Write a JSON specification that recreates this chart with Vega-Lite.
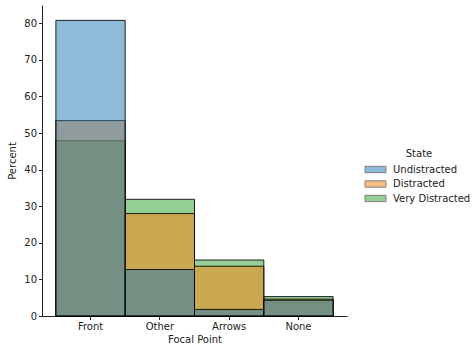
{
  "$schema": "https://vega.github.io/schema/vega-lite/v6.json",
  "width": 305,
  "height": 311,
  "autosize": {"type": "none"},
  "padding": {"left": 42, "top": 5, "right": 127, "bottom": 35},
  "background": "white",
  "config": {
    "view": {"stroke": null},
    "font": "DejaVu Sans",
    "axis": {"labelFont": "DejaVu Sans", "titleFont": "DejaVu Sans", "labelFontSize": 10, "titleFontSize": 10, "titleFontWeight": "normal", "labelColor": "#222", "titleColor": "#222", "domainColor": "#222", "tickColor": "#222", "grid": false, "tickSize": 3.5}
  },
  "data": {
    "values": [
      {"focal": "Front", "state": "Very Distracted", "pct": 47.9},
      {"focal": "Other", "state": "Very Distracted", "pct": 31.9},
      {"focal": "Arrows", "state": "Very Distracted", "pct": 15.3},
      {"focal": "None", "state": "Very Distracted", "pct": 5.3},
      {"focal": "Front", "state": "Distracted", "pct": 53.4},
      {"focal": "Other", "state": "Distracted", "pct": 28.0},
      {"focal": "Arrows", "state": "Distracted", "pct": 13.6},
      {"focal": "None", "state": "Distracted", "pct": 4.6},
      {"focal": "Front", "state": "Undistracted", "pct": 80.8},
      {"focal": "Other", "state": "Undistracted", "pct": 12.7},
      {"focal": "Arrows", "state": "Undistracted", "pct": 1.8},
      {"focal": "None", "state": "Undistracted", "pct": 4.3}
    ]
  },
  "mark": {"type": "bar", "fillOpacity": 0.5, "stroke": "black", "strokeWidth": 1, "strokeOpacity": 0.85},
  "encoding": {
    "x": {
      "field": "focal", "type": "nominal", "sort": ["Front", "Other", "Arrows", "None"],
      "scale": {"paddingInner": 0, "paddingOuter": 0.2},
      "axis": {"title": "Focal Point", "labelAngle": 0, "titlePadding": 3}
    },
    "y": {
      "field": "pct", "type": "quantitative", "stack": null,
      "scale": {"domain": [0, 85], "nice": false},
      "axis": {"title": "Percent", "values": [0, 10, 20, 30, 40, 50, 60, 70, 80], "titlePadding": 6}
    },
    "color": {
      "field": "state", "type": "nominal",
      "scale": {"domain": ["Undistracted", "Distracted", "Very Distracted"], "range": ["#1f77b4", "#ff7f0e", "#2ca02c"]},
      "legend": {
        "title": "State", "orient": "none", "legendX": 326, "legendY": 144,
        "titleFontSize": 10, "titleFontWeight": "normal", "titleColor": "#222", "titleAnchor": "middle", "titleFont": "DejaVu Sans", "titlePadding": 3,
        "labelFontSize": 10, "labelColor": "#222", "labelFont": "DejaVu Sans",
        "symbolType": "M-1.5,-0.45L1.5,-0.45L1.5,0.45L-1.5,0.45Z", "symbolSize": 196,
        "symbolStrokeColor": "black", "symbolStrokeWidth": 1, "symbolOpacity": 0.5,
        "rowPadding": 1.5, "labelOffset": 10
      }
    }
  }
}
